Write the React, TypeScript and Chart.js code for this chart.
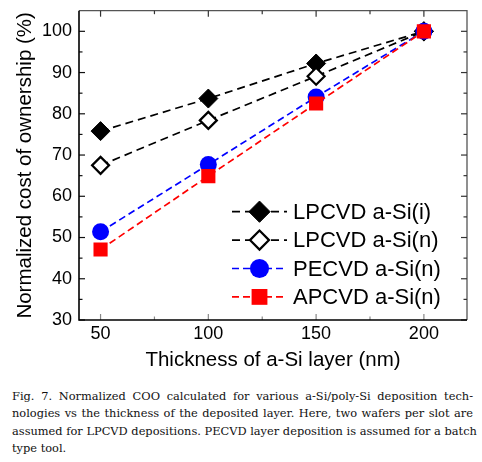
import { useEffect, useRef } from "react";
import Chart from "chart.js/auto";
import { drawPoint } from "chart.js/helpers";

const thickness = [50, 100, 150, 200];
const lpcvdIntrinsic = [75.8, 83.7, 92.2, 100];
const lpcvdDoped = [67.5, 78.4, 89.1, 100];
const pecvdDoped = [51.4, 67.7, 84.1, 100];
const apcvdDoped = [47.1, 64.9, 82.5, 100];

const seriesNames = ["LPCVD a-Si(i)", "LPCVD a-Si(n)", "PECVD a-Si(n)", "APCVD a-Si(n)"];

const xTicks = [50, 100, 150, 200];
const xMinorTicks = [75, 125, 175];
const yTicks = [30, 40, 50, 60, 70, 80, 90, 100];
const yMinorTicks = [35, 45, 55, 65, 75, 85, 95];

const FONT = "'Liberation Sans', Arial, sans-serif";

const toPoints = (ys: number[]) => thickness.map((x, i) => ({ x, y: ys[i] }));

// box around the plot + inward ticks on all four sides
const frameTicks = {
  id: "frameTicks",
  beforeDatasetsDraw(chart: any) {
    const { ctx, chartArea: a, scales } = chart;
    const xs = scales.x;
    const ys = scales.y;
    ctx.save();
    ctx.lineCap = "butt";

    ctx.strokeStyle = "#555";
    ctx.lineWidth = 1.3;
    ctx.beginPath();
    ctx.moveTo(a.left, a.top);
    ctx.lineTo(a.right, a.top);
    ctx.lineTo(a.right, a.bottom);
    ctx.stroke();

    const tick = (x1: number, y1: number, x2: number, y2: number, color: string) => {
      ctx.strokeStyle = color;
      ctx.beginPath();
      ctx.moveTo(x1, y1);
      ctx.lineTo(x2, y2);
      ctx.stroke();
    };
    ctx.lineWidth = 1.2;
    const xMark = (v: number, len: number) => {
      const p = xs.getPixelForValue(v);
      tick(p, a.bottom, p, a.bottom - len, "#888");
      tick(p, a.top, p, a.top + len, "#333");
    };
    const yMark = (v: number, len: number) => {
      const p = ys.getPixelForValue(v);
      tick(a.left, p, a.left + len, p, "#111");
      tick(a.right, p, a.right - len, p, "#333");
    };
    xTicks.forEach((v) => xMark(v, 6));
    xMinorTicks.forEach((v) => xMark(v, 3.5));
    yTicks.forEach((v) => yMark(v, 6));
    yMinorTicks.forEach((v) => yMark(v, 3.5));

    ctx.strokeStyle = "#000";
    ctx.lineWidth = 1.6;
    ctx.beginPath();
    ctx.moveTo(a.left, a.top);
    ctx.lineTo(a.left, a.bottom);
    ctx.lineTo(a.right, a.bottom);
    ctx.stroke();
    ctx.restore();
  },
};

// legend with a dashed line sample and the marker in its middle
const lineLegend = {
  id: "lineLegend",
  afterDatasetsDraw(chart: any) {
    const { ctx, chartArea: a } = chart;
    ctx.save();
    chart.data.datasets.forEach((ds: any, i: number) => {
      const y = a.top + 201 + i * 28.4;
      const x0 = a.left + 153;
      const x1 = a.left + 208;
      const xm = (x0 + x1) / 2;
      ctx.strokeStyle = ds.borderColor;
      ctx.lineWidth = ds.borderWidth;
      ctx.setLineDash(ds.borderDash);
      ctx.beginPath();
      ctx.moveTo(x0, y);
      ctx.lineTo(x1, y);
      ctx.stroke();
      ctx.setLineDash([]);
      ctx.fillStyle = ds.pointBackgroundColor;
      ctx.strokeStyle = ds.pointBorderColor;
      ctx.lineWidth = ds.pointBorderWidth;
      drawPoint(
        ctx,
        { pointStyle: ds.pointStyle, radius: ds.pointRadius * 1.12, rotation: 0, borderWidth: ds.pointBorderWidth },
        xm,
        y
      );
      ctx.fillStyle = "#000";
      ctx.font = `22px ${FONT}`;
      ctx.textBaseline = "middle";
      ctx.textAlign = "left";
      ctx.fillText(ds.label, x1 + 6, y + 1);
    });
    ctx.restore();
  },
};

function CooChart() {
  const canvasRef = useRef<HTMLCanvasElement>(null);

  useEffect(() => {
    if (!canvasRef.current) return;
    const chart = new Chart(canvasRef.current, {
      type: "line",
      data: {
        datasets: [
          {
            label: seriesNames[0],
            data: toPoints(lpcvdIntrinsic),
            borderColor: "#000",
            borderWidth: 1.7,
            borderDash: [8, 5],
            pointStyle: "rectRot",
            pointRadius: 9.5,
            pointBackgroundColor: "#000",
            pointBorderColor: "#000",
            pointBorderWidth: 1,
            order: 3,
          },
          {
            label: seriesNames[1],
            data: toPoints(lpcvdDoped),
            borderColor: "#000",
            borderWidth: 1.7,
            borderDash: [8, 5],
            pointStyle: "rectRot",
            pointRadius: 8.5,
            pointBackgroundColor: "#fff",
            pointBorderColor: "#000",
            pointBorderWidth: 2.2,
            order: 2,
          },
          {
            label: seriesNames[2],
            data: toPoints(pecvdDoped),
            borderColor: "#0000ff",
            borderWidth: 1.7,
            borderDash: [7, 4],
            pointStyle: "circle",
            pointRadius: 8.5,
            pointBackgroundColor: "#0000ff",
            pointBorderColor: "#0000ff",
            pointBorderWidth: 0,
            order: 1,
          },
          {
            label: seriesNames[3],
            data: toPoints(apcvdDoped),
            borderColor: "#ff0000",
            borderWidth: 1.7,
            borderDash: [7, 4],
            pointStyle: "rect",
            pointRadius: 10,
            pointBackgroundColor: "#ff0000",
            pointBorderColor: "#ff0000",
            pointBorderWidth: 0,
            order: 0,
          },
        ],
      },
      options: {
        responsive: false,
        animation: false,
        layout: { padding: { top: 9, right: 15, bottom: 0, left: 0 } },
        plugins: {
          legend: { display: false },
          tooltip: { enabled: false },
        },
        scales: {
          x: {
            type: "linear",
            min: 40,
            max: 220,
            grid: { display: false, drawTicks: false },
            border: { display: false },
            afterBuildTicks: (s: any) => {
              s.ticks = xTicks.map((value) => ({ value }));
            },
            afterFit: (s: any) => {
              s.height = 52;
              s.paddingLeft = 0;
              s.paddingRight = 0;
            },
            ticks: { padding: 3, color: "#000", font: { family: FONT, size: 18 } },
            title: {
              display: true,
              text: "Thickness of a-Si layer (nm)",
              color: "#000",
              font: { family: FONT, size: 20.5, lineHeight: 1.15 },
              padding: { top: 0, bottom: 0 },
            },
          },
          y: {
            min: 30,
            max: 105,
            grid: { display: false, drawTicks: false },
            border: { display: false },
            afterBuildTicks: (s: any) => {
              s.ticks = yTicks.map((value) => ({ value }));
            },
            afterFit: (s: any) => {
              s.width = 79;
              s.paddingTop = 0;
              s.paddingBottom = 0;
            },
            ticks: { padding: 7, color: "#000", font: { family: FONT, size: 18 } },
            title: {
              display: true,
              text: "Normalized cost of ownership (%)",
              color: "#000",
              font: { family: FONT, size: 20.5, lineHeight: 1.2 },
              padding: { top: 12.7, bottom: 0 },
            },
          },
        },
      },
      plugins: [frameTicks, lineLegend],
    });
    return () => chart.destroy();
  }, []);

  return <canvas ref={canvasRef} width={482} height={372} style={{ display: "block" }} />;
}

const lineStyle: React.CSSProperties = {
  textAlign: "justify",
  textAlignLast: "justify",
  whiteSpace: "nowrap",
  height: 17.4,
  lineHeight: "17.4px",
};

export default function App() {
  return (
    <div style={{ position: "absolute", left: 0, top: 0, width: 482, height: 462, background: "#fff" }}>
      <CooChart />
      <div
        style={{
          position: "absolute",
          left: 12,
          top: 388,
          width: 461,
          fontFamily: "'DejaVu Serif', serif",
          fontSize: 11.4,
          color: "#111",
        }}
      >
        <div style={lineStyle}>
          Fig. 7. Normalized COO calculated for various a-Si/poly-Si deposition tech-
        </div>
        <div style={lineStyle}>
          nologies vs the thickness of the deposited layer. Here, two wafers per slot are
        </div>
        <div style={lineStyle}>
          assumed for LPCVD depositions. PECVD layer deposition is assumed for a batch
        </div>
        <div style={{ ...lineStyle, textAlignLast: "left" }}>type tool.</div>
      </div>
    </div>
  );
}
